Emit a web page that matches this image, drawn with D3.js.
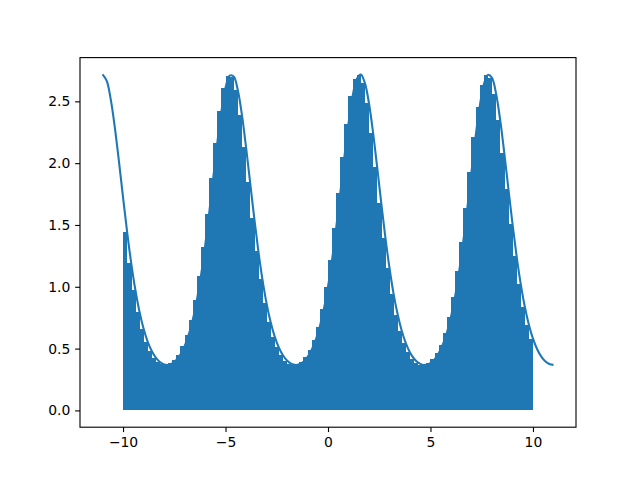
<!DOCTYPE html>
<html><head><meta charset="utf-8">
<script src="https://cdn.jsdelivr.net/npm/d3@7"></script>
<style>body{margin:0;background:#fff}svg{display:block}text{font-family:"DejaVu Sans",sans-serif}</style>
</head><body>
<script>
const curveX = [-11,-10.8,-10.6,-10.4,-10.2,-10,-9.8,-9.6,-9.4,-9.2,-9,-8.8,-8.6,-8.4,-8.2,-8,-7.8,-7.6,-7.4,-7.2,-7,-6.8,-6.6,-6.4,-6.2,-6,-5.8,-5.6,-5.4,-5.2,-5,-4.8,-4.6,-4.4,-4.2,-4,-3.8,-3.6,-3.4,-3.2,-3,-2.8,-2.6,-2.4,-2.2,-2,-1.8,-1.6,-1.4,-1.2,-1,-0.8,-0.6,-0.4,-0.2,0,0.2,0.4,0.6,0.8,1,1.2,1.4,1.6,1.8,2,2.2,2.4,2.6,2.8,3,3.2,3.4,3.6,3.8,4,4.2,4.4,4.6,4.8,5,5.2,5.4,5.6,5.8,6,6.2,6.4,6.6,6.8,7,7.2,7.4,7.6,7.8,8,8.2,8.4,8.6,8.8,9,9.2,9.4,9.6,9.8,10,10.2,10.4,10.6,10.8,11];
const curveY = [2.718,2.667,2.516,2.288,2.014,1.723,1.443,1.190,0.976,0.800,0.662,0.557,0.480,0.426,0.390,0.372,0.368,0.380,0.407,0.452,0.518,0.610,0.732,0.890,1.087,1.322,1.591,1.880,2.166,2.419,2.609,2.708,2.701,2.590,2.391,2.131,1.844,1.557,1.291,1.060,0.868,0.715,0.597,0.509,0.446,0.403,0.378,0.368,0.373,0.394,0.431,0.488,0.569,0.678,0.820,1.000,1.220,1.476,1.759,2.049,2.320,2.540,2.679,2.717,2.648,2.483,2.245,1.965,1.675,1.398,1.152,0.943,0.775,0.642,0.542,0.469,0.418,0.386,0.370,0.369,0.383,0.413,0.462,0.532,0.628,0.756,0.920,1.124,1.366,1.639,1.929,2.212,2.456,2.633,2.714,2.690,2.562,2.350,2.084,1.795,1.510,1.250,1.025,0.840,0.693,0.580,0.497,0.437,0.397,0.375,0.368];
const binLeft = [-10,-9.8,-9.6,-9.4,-9.2,-9,-8.8,-8.6,-8.4,-8.2,-8,-7.8,-7.6,-7.4,-7.2,-7,-6.8,-6.6,-6.4,-6.2,-6,-5.8,-5.6,-5.4,-5.2,-5,-4.8,-4.6,-4.4,-4.2,-4,-3.8,-3.6,-3.4,-3.2,-3,-2.8,-2.6,-2.4,-2.2,-2,-1.8,-1.6,-1.4,-1.2,-1,-0.8,-0.6,-0.4,-0.2,0,0.2,0.4,0.6,0.8,1,1.2,1.4,1.6,1.8,2,2.2,2.4,2.6,2.8,3,3.2,3.4,3.6,3.8,4,4.2,4.4,4.6,4.8,5,5.2,5.4,5.6,5.8,6,6.2,6.4,6.6,6.8,7,7.2,7.4,7.6,7.8,8,8.2,8.4,8.6,8.8,9,9.2,9.4,9.6,9.8];
const barHeights = [1.443,1.190,0.976,0.800,0.662,0.557,0.480,0.426,0.390,0.372,0.368,0.380,0.407,0.452,0.518,0.610,0.732,0.890,1.087,1.322,1.591,1.880,2.166,2.419,2.609,2.708,2.701,2.590,2.391,2.131,1.844,1.557,1.291,1.060,0.868,0.715,0.597,0.509,0.446,0.403,0.378,0.368,0.373,0.394,0.431,0.488,0.569,0.678,0.820,1.000,1.220,1.476,1.759,2.049,2.320,2.540,2.679,2.717,2.648,2.483,2.245,1.965,1.675,1.398,1.152,0.943,0.775,0.642,0.542,0.469,0.418,0.386,0.370,0.369,0.383,0.413,0.462,0.532,0.628,0.756,0.920,1.124,1.366,1.639,1.929,2.212,2.456,2.633,2.714,2.690,2.562,2.350,2.084,1.795,1.510,1.250,1.025,0.840,0.693,0.580];
const xTicks = [-10,-5,0,5,10];
const yTicks = [0,0.5,1,1.5,2,2.5];

const W = 640, H = 480;
const L = 80, T = 57.6, PW = 496, PH = 369.6;
const color = "#1f77b4";
const binWidth = binLeft[1] - binLeft[0];

const svg = d3.select("body").append("svg").attr("width", W).attr("height", H);

const xMin = Math.min(d3.min(curveX), d3.min(binLeft));
const xMax = Math.max(d3.max(curveX), d3.max(binLeft) + binWidth);
const xPad = (xMax - xMin) * 0.05;
const yMax = Math.max(d3.max(curveY), d3.max(barHeights));
const yPad = yMax * 0.05;
const x = d3.scaleLinear().domain([xMin - xPad, xMax + xPad]).range([L, L + PW]);
const y = d3.scaleLinear().domain([0 - yPad, yMax + yPad]).range([T + PH, T]);

const plot = svg.append("g");
plot.append("path")
  .datum(curveX.map((d, i) => [d, curveY[i]]))
  .attr("fill", "none").attr("stroke", color).attr("stroke-width", 2.08)
  .attr("stroke-linejoin", "round").attr("stroke-linecap", "butt")
  .attr("d", d3.line().x(d => x(d[0])).y(d => y(d[1])).curve(d3.curveCatmullRom.alpha(0.5)));

plot.selectAll("rect.bar").data(binLeft).join("rect")
  .attr("class", "bar")
  .attr("x", d => x(d))
  .attr("width", d => x(d + binWidth) - x(d) + 0.3)
  .attr("y", (d, i) => y(barHeights[i]))
  .attr("height", (d, i) => y(0) - y(barHeights[i]))
  .attr("fill", color)
  .attr("shape-rendering", "crispEdges");

const fmtMinus = s => s.replace("-", "\u2212");
const xAxis = d3.axisBottom(x).tickValues(xTicks).tickSize(4.86).tickPadding(4.86)
  .tickFormat(d => fmtMinus(d3.format("d")(d)));
const yAxis = d3.axisLeft(y).tickValues(yTicks).tickSize(4.86).tickPadding(4.86)
  .tickFormat(d => fmtMinus(d3.format(".1f")(d)));

const gx = svg.append("g").attr("transform", `translate(0,${T + PH})`).call(xAxis);
const gy = svg.append("g").attr("transform", `translate(${L},0)`).call(yAxis);
[gx, gy].forEach(g => {
  g.select(".domain").remove();
  g.selectAll(".tick line").attr("stroke", "#000").attr("stroke-width", 1.11);
  g.selectAll(".tick text").attr("fill", "#000").style("font-size", "13.9px").style("font-family", "'DejaVu Sans', sans-serif");
});

svg.append("rect").attr("x", L).attr("y", T).attr("width", PW).attr("height", PH)
  .attr("fill", "none").attr("stroke", "#000").attr("stroke-width", 1.11);
</script>
</body></html>
